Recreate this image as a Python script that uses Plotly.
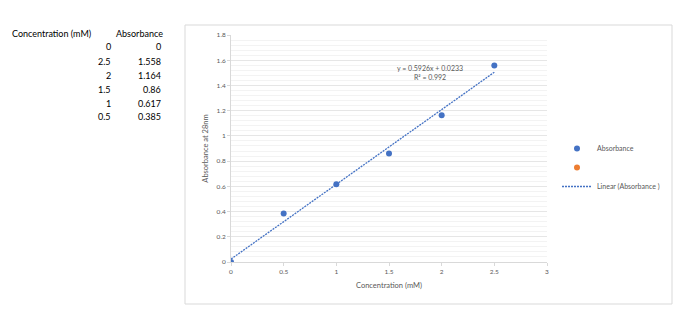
import plotly.graph_objects as go

# Data table
concentration = [0, 2.5, 2, 1.5, 1, 0.5]
absorbance = [0, 1.558, 1.164, 0.86, 0.617, 0.385]
conc_labels = ["0", "2.5", "2", "1.5", "1", "0.5"]
abs_labels = ["0", "1.558", "1.164", "0.86", "0.617", "0.385"]

# Linear fit reported on the chart
slope = 0.5926
intercept = 0.0233
r_squared = 0.992
fit_x = [0, 2.5]

FONT = "Lato, Liberation Sans, sans-serif"
BLUE = "#4472C4"
ORANGE = "#ED7D31"
GREY_TXT = "#595959"

fig = go.Figure()

fig.add_trace(go.Scatter(
    x=concentration, y=absorbance, mode="markers", name="Absorbance",
    marker=dict(color=BLUE, size=6),
))
fig.add_trace(go.Scatter(
    x=[None], y=[None], mode="markers", name=" ",
    marker=dict(color=ORANGE, size=6),
))
fig.add_trace(go.Scatter(
    x=fit_x, y=[slope * v + intercept for v in fit_x], mode="lines",
    name="Linear (Absorbance )",
    line=dict(color=BLUE, width=1.3, dash="2px,1px"),
))

# Plot area in pixels: x 231..547, y 35..262
L, R, T, B = 231, 547, 35, 262
W, H = R - L, B - T


def px(x):
    return (x - L) / W


def py(y):
    return (B - y) / H


annotations = []

# Equation label
annotations.append(dict(
    x=1.89, y=1.5, xref="x", yref="y", xanchor="center", yanchor="middle",
    text=f"y = {slope}x + {intercept}<br>R² = {r_squared}", showarrow=False,
    font=dict(family=FONT, size=7, color=GREY_TXT), align="center",
))

# Data table to the left of the chart
annotations.append(dict(x=px(10), y=py(34), xref="paper", yref="paper",
                        text="Concentration (mM)", showarrow=False,
                        xanchor="left", yanchor="middle",
                        font=dict(family=FONT, size=9, color="#000")))
annotations.append(dict(x=px(165), y=py(34), xref="paper", yref="paper",
                        text="Absorbance", showarrow=False,
                        xanchor="right", yanchor="middle",
                        font=dict(family=FONT, size=9, color="#000")))
row_y = [47, 61.5, 75.5, 89.5, 103, 116.5]
for c, a, ry in zip(conc_labels, abs_labels, row_y):
    annotations.append(dict(x=px(113), y=py(ry), xref="paper", yref="paper",
                            text=c, showarrow=False, xanchor="right",
                            yanchor="middle",
                            font=dict(family=FONT, size=9, color="#000")))
    annotations.append(dict(x=px(163), y=py(ry), xref="paper", yref="paper",
                            text=a, showarrow=False, xanchor="right",
                            yanchor="middle",
                            font=dict(family=FONT, size=9, color="#000")))

# Chart area border
shapes = [dict(type="rect", xref="paper", yref="paper",
               x0=px(185), x1=px(672), y0=py(304), y1=py(25),
               line=dict(color="#D9D9D9", width=1), fillcolor="rgba(0,0,0,0)",
               layer="below")]

fig.update_layout(
    width=700, height=324,
    margin=dict(l=L, r=700 - R, t=T, b=324 - B, pad=0),
    paper_bgcolor="white", plot_bgcolor="white",
    font=dict(family=FONT, size=7, color=GREY_TXT),
    showlegend=True,
    legend=dict(x=px(557), y=py(134), xanchor="left", yanchor="top",
                font=dict(family=FONT, size=7, color=GREY_TXT),
                bgcolor="rgba(0,0,0,0)", tracegroupgap=0, itemwidth=30),
    xaxis=dict(
        range=[0, 3], dtick=0.5, tick0=0, tickformat="~g",
        showgrid=False, zeroline=False,
        showline=True, linecolor="#D9D9D9", linewidth=1,
        ticks="outside", ticklen=3, tickcolor="#D9D9D9",
        title=dict(text="Concentration (mM)", standoff=8,
                   font=dict(family=FONT, size=7.5, color=GREY_TXT)),
        tickfont=dict(family=FONT, size=6.5, color=GREY_TXT),
    ),
    yaxis=dict(
        range=[0, 1.8], dtick=0.2, tick0=0, tickformat="~g",
        showgrid=True, gridcolor="#E6E6E6", gridwidth=1,
        minor=dict(dtick=0.04, showgrid=True, gridcolor="#F3F3F3", gridwidth=1),
        zeroline=False,
        showline=True, linecolor="#D9D9D9", linewidth=1,
        ticks="outside", ticklen=3, tickcolor="#D9D9D9",
        title=dict(text="Absorbance at 28nm", standoff=6,
                   font=dict(family=FONT, size=7.5, color=GREY_TXT)),
        tickfont=dict(family=FONT, size=6.5, color=GREY_TXT),
    ),
    annotations=annotations,
    shapes=shapes,
)

fig.write_html("out.html")
